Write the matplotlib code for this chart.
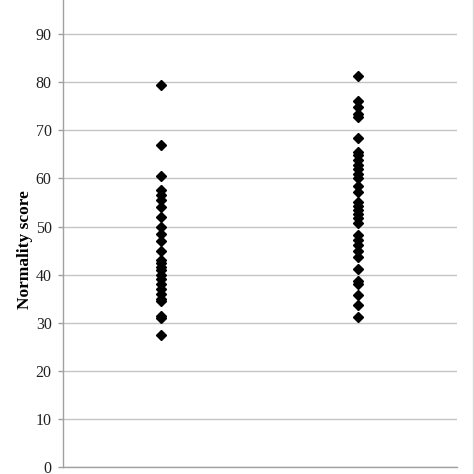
import matplotlib
matplotlib.use('Agg')
import matplotlib.pyplot as plt

# normality scores, one column per group
group_a = [79.5, 67, 60.5, 57.5, 56.5, 55.5, 54, 52, 50, 48.5, 47, 45, 43, 42.5,
           41.5, 41, 40, 39, 38, 37, 36, 35, 34.5, 31.5, 31, 27.5]
group_b = [81.3, 76, 74.8, 73.5, 72.8, 68.5, 65.5, 64.8, 63.8, 62.8, 62, 61,
           60, 58.4, 57.2, 55, 54.2, 53.5, 52.6, 51.8, 50.7, 48.2, 47.2, 46.2,
           45, 43.7, 41.2, 38.6, 38, 35.8, 33.7, 31.2]
group_pos = [1, 2]
y_ticks = list(range(0, 100, 10))

plt.rcParams['font.family'] = ['Liberation Serif', 'DejaVu Serif']

fig = plt.figure(figsize=(4.74, 4.74), dpi=100)
ax = fig.add_axes([63 / 474, 7 / 474, (457 - 63) / 474, 467 / 474])

ax.plot([group_pos[0]] * len(group_a), group_a, linestyle='none', marker='D',
        markersize=5.2, color='black', clip_on=False, zorder=3)
ax.plot([group_pos[1]] * len(group_b), group_b, linestyle='none', marker='D',
        markersize=5.2, color='black', clip_on=False, zorder=3)

ax.set_xlim(0.5, 2.5)
ax.set_ylim(0, 97.1)
ax.set_yticks(y_ticks)
ax.set_xticks([])
ax.yaxis.grid(True, color='#c4c4c4', linewidth=1.0)
ax.set_axisbelow(True)

for side in ['top', 'right']:
    ax.spines[side].set_visible(False)
for side in ['left', 'bottom']:
    ax.spines[side].set_color('#a0a0a0')
    ax.spines[side].set_linewidth(1.0)

ax.tick_params(axis='y', length=3.6, width=1.0, color='#a0a0a0', pad=4.5,
               labelsize=11.5, labelcolor='#222222')

ax.set_ylabel('Normality score', fontsize=12.5, fontweight='bold')
ax.yaxis.set_label_coords(-30 / 394, (467 - 250) / 467)

# faint frame line on the right edge, as in the reference
fig.add_artist(plt.Line2D([472.5 / 474, 472.5 / 474], [0, 1], color='#d8d8d8',
                          linewidth=1.0))

plt.savefig('out.png', dpi=100)
